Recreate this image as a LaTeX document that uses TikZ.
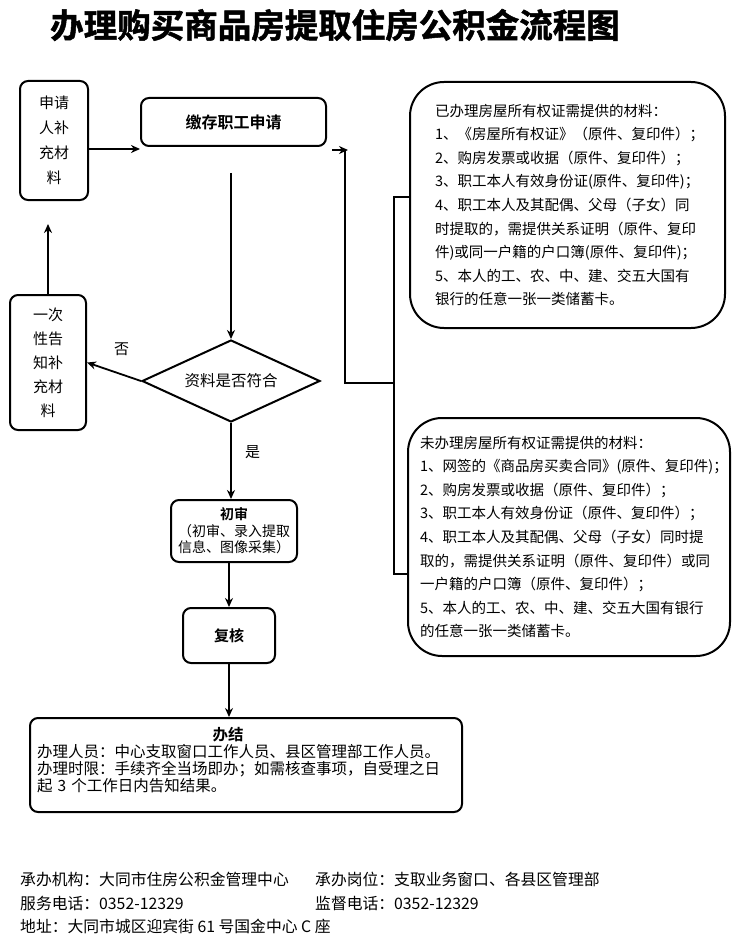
\documentclass[tikz,border=0pt]{standalone}
\usepackage{fontspec}
\setmainfont{Noto Sans CJK SC}[BoldFont={Noto Sans CJK SC Bold}]
\newfontfamily\titlefont{Noto Sans CJK SC Bold}[FakeBold=1.5]
\usetikzlibrary{shapes.geometric,arrows.meta}

\begin{document}
\begin{tikzpicture}[x=1pt,y=-1pt,
		flowbox/.style={draw,line width=2pt,rounded corners=8pt,align=center,inner sep=2pt},
		notebox/.style={draw,line width=2pt,rounded corners=34pt,align=left,inner sep=0pt,font=\fontsize{14.5}{23.6}\selectfont},
		wire/.style={line width=1.8pt},
		tag/.style={font=\fontsize{15}{15}\selectfont},
		foot/.style={anchor=west,inner sep=0pt,font=\fontsize{15.8}{16}\selectfont},
		>={Stealth[length=9pt,width=8pt]}]
			\useasboundingbox (0,0) rectangle (740,944);
			\node (title) at (335,25) [font=\fontsize{33.5}{33.5}\titlefont] {办理购买商品房提取住房公积金流程图};
			\node (buchong) at (54,140.5) [flowbox,minimum width=68pt,minimum height=119pt,font=\fontsize{15}{25}\selectfont] {申请\\人补\\充材\\料};
			\node (jiaocun) at (233.5,122) [flowbox,minimum width=185pt,minimum height=48pt,font=\fontsize{16}{16}\selectfont\bfseries] {缴存职工申请};
			\node (dia) at (231,381) [diamond,aspect=2.2,draw,line width=2pt,minimum width=178pt,minimum height=82pt,inner sep=0pt,font=\fontsize{15.5}{16}\selectfont] {资料是否符合};
			\node (yici) at (48,362.5) [flowbox,minimum width=76pt,minimum height=135pt,font=\fontsize{15}{24}\selectfont] {一次\\性告\\知补\\充材\\料};
			\node (chushen) at (234,531) [flowbox,minimum width=126pt,minimum height=62pt,font=\fontsize{14}{16.5}\selectfont] {\textbf{初审}\\（初审、录入提取\\信息、图像采集）};
			\node (fuhe) at (229,635.5) [flowbox,minimum width=92pt,minimum height=55pt,font=\fontsize{15}{15}\selectfont\bfseries] {复核};
			\node (banjie) at (246,765) [flowbox,align=left,text width=418pt,minimum width=432pt,minimum height=94pt,font=\fontsize{15.5}{17}\selectfont] {\makebox[382pt]{\textbf{办结}}\\办理人员：中心支取窗口工作人员、县区管理部工作人员。\\办理时限：手续齐全当场即办；如需核查事项，自受理之日\\起 3 个工作日内告知结果。\rule[-12pt]{0pt}{12pt}};
			\node (youzheng) at (567.5,205) [notebox,text width=265pt,minimum width=315pt,minimum height=246pt] {已办理房屋所有权证需提供的材料：\\1、《房屋所有权证》（原件、复印件）；\\2、购房发票或收据（原件、复印件）；\\3、职工本人有效身份证(原件、复印件)；\\4、职工本人及其配偶、父母（子女）同\\时提取的，需提供关系证明（原件、复印\\件)或同一户籍的户口簿(原件、复印件)；\\5、本人的工、农、中、建、交五大国有\\银行的任意一张一类储蓄卡。};
			\node (weizheng) at (569,537) [notebox,text width=298pt,minimum width=322pt,minimum height=238pt] {未办理房屋所有权证需提供的材料：\\1、网签的《商品房买卖合同》(原件、复印件)；\\2、购房发票或收据（原件、复印件）；\\3、职工本人有效身份证（原件、复印件）；\\4、职工本人及其配偶、父母（子女）同时提\\取的，需提供关系证明（原件、复印件）或同\\一户籍的户口簿（原件、复印件）；\\5、本人的工、农、中、建、交五大国有银行\\的任意一张一类储蓄卡。};
			\coordinate (j1) at ([yshift=-2pt]jiaocun.south west);
			\coordinate (d0) at (dia.north |- 0,173);
			\coordinate (u0) at (yici.north |- 0,224);
			\draw [wire,->] (buchong.east |- j1) -- (j1);
			\draw [wire,->] (d0) -- (dia.north);
			\draw [wire,->] (dia.west) -- (yici.east) node [tag,pos=0.36,above=14pt] {否};
			\draw [wire,->] (yici.north) -- (u0);
			\draw [wire,->] (dia.south) -- (dia.south |- chushen.north) node [tag,pos=0.38,right=10pt] {是};
			\draw [wire,->] (fuhe.north |- chushen.south) -- (fuhe.north);
			\draw [wire,->] (fuhe.south) -- (fuhe.south |- banjie.north);
			\coordinate (b1) at ([yshift=8pt]youzheng.west);
			\coordinate (b2) at ([yshift=-37pt]weizheng.west);
			\coordinate (mid) at (394,383);
			\coordinate (tp) at (345,150);
			\draw [wire] (b1) -- (mid |- b1) -- (mid |- b2) -- (b2);
			\draw [wire] (mid) -- (tp |- mid) -- (tp);
			\draw [wire,->] ([xshift=-13pt]tp) -- ([xshift=3pt]tp);
			\node (jigou) at (20,879) [foot] {承办机构：大同市住房公积金管理中心};
			\node (gangwei) at (315,879) [foot] {承办岗位：支取业务窗口、各县区管理部};
			\node (fuwu) at (20,903) [foot] {服务电话：0352-12329};
			\node (jiandu) at (315,903) [foot] {监督电话：0352-12329};
			\node (dizhi) at (20,926) [foot] {地址：大同市城区迎宾街 61 号国金中心 C 座};
		\end{tikzpicture}
\end{document}
